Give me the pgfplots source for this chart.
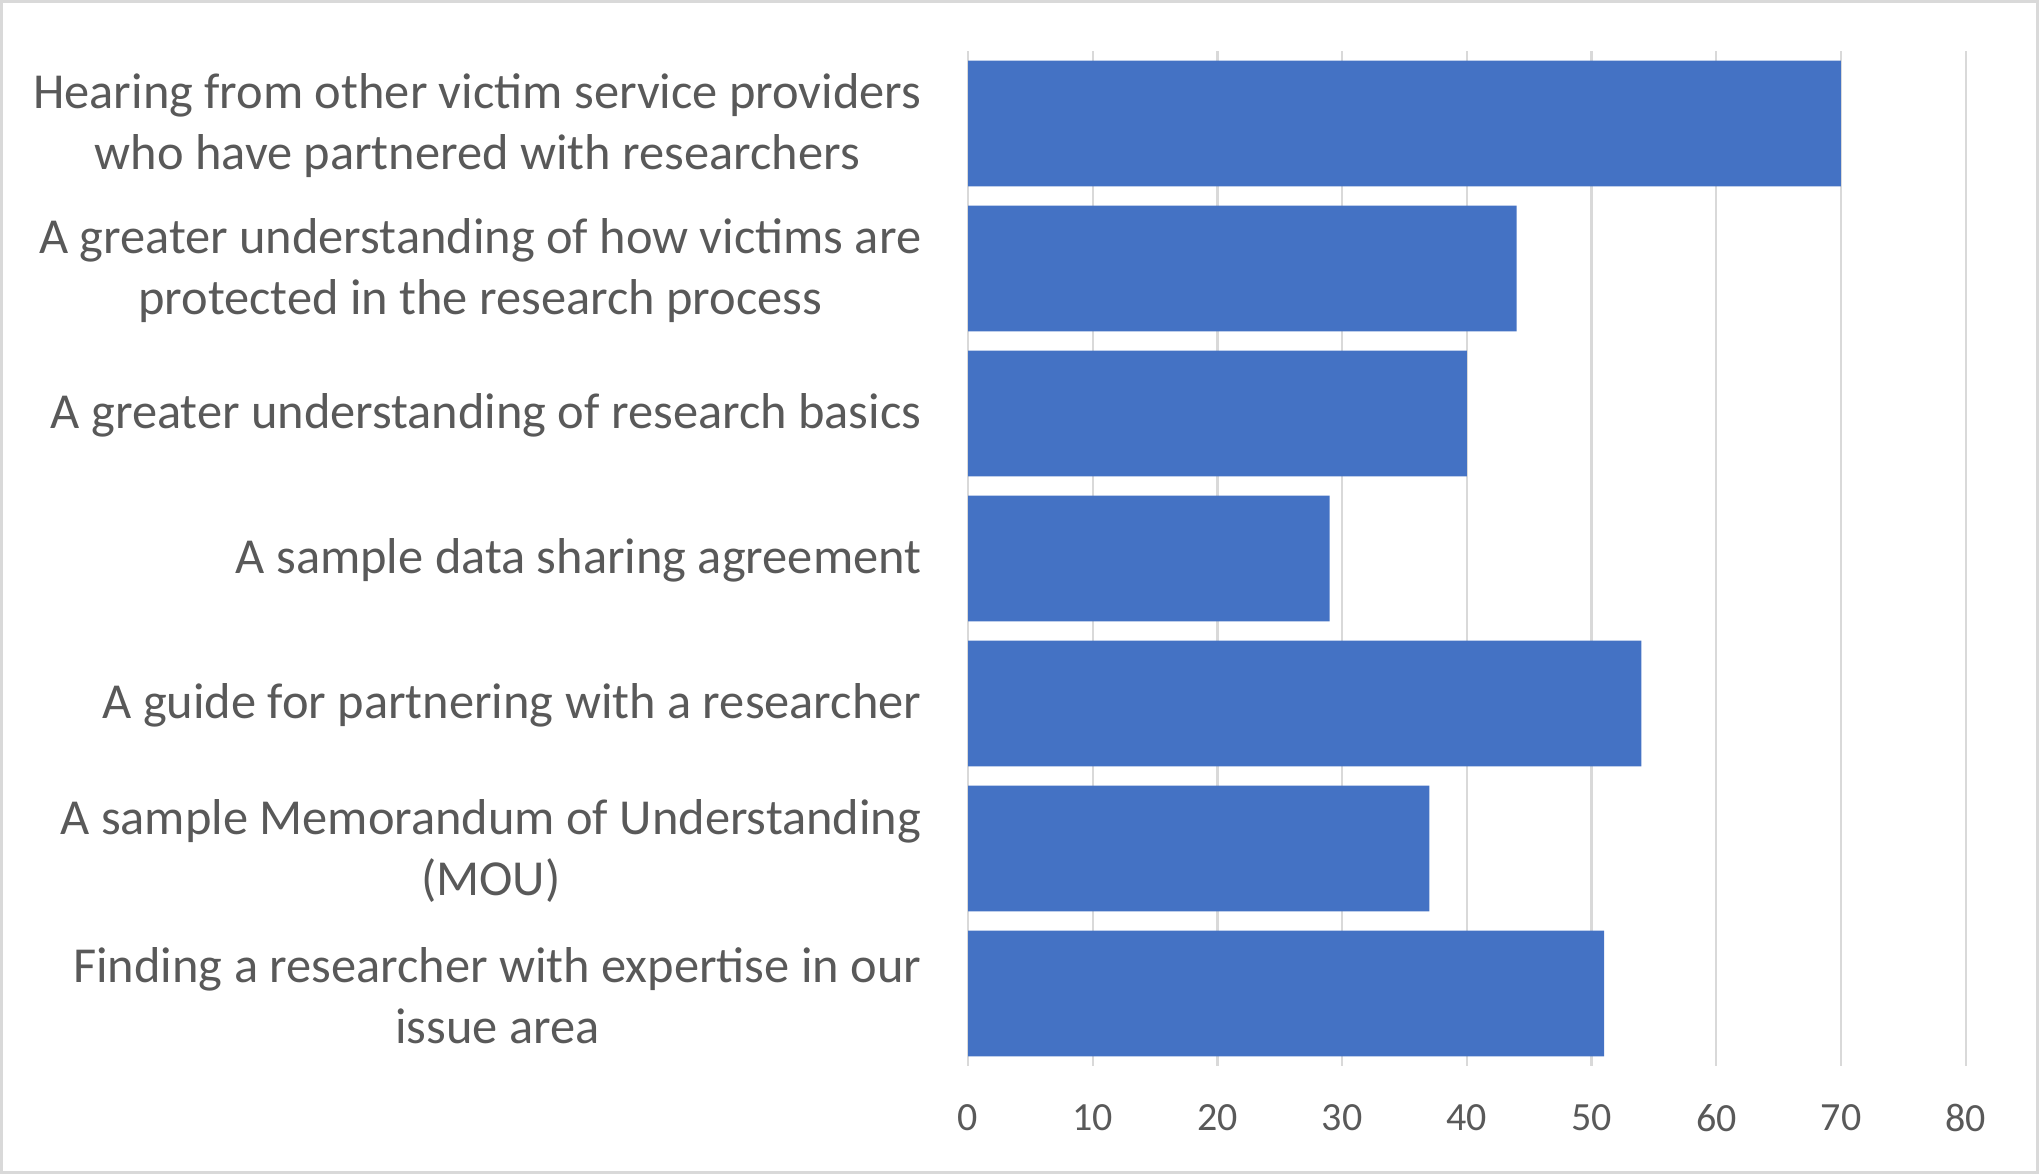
\documentclass[border=0pt]{standalone}
\usepackage{pgfplots}
\pgfplotsset{compat=1.18}
\usepackage{fontspec}
\setmainfont{Carlito}
\definecolor{barblue}{HTML}{4472C4}
\definecolor{gridgray}{HTML}{D9D9D9}
\definecolor{txtgray}{HTML}{595959}
\begin{document}
\begin{tikzpicture}
\path[use as bounding box] (0,0) rectangle (1019.5bp,587bp);
\draw[gridgray, line width=1.5bp] (0.75bp,0.75bp) rectangle (1018.75bp,586.25bp);
\begin{axis}[
 at={(484bp,54bp)}, anchor=south west,
 scale only axis, width=498.85bp, height=507.5bp,
 xbar, bar width=0.867,
 xmin=0, xmax=80, ymin=-0.5, ymax=6.5, y dir=reverse,
 xtick={0,10,...,80}, ytick={0,...,6},
 yticklabels={{Hearing from other victim service providers\\who have partnered with researchers},
   {A greater understanding of how victims are\\protected in the research process},
   {A greater understanding of research basics},
   {A sample data sharing agreement},
   {A guide for partnering with a researcher},
   {A sample Memorandum of Understanding\\(MOU)},
   {Finding a researcher with expertise in our\\issue area}},
 axis line style={draw=none}, major tick length=0pt,
 xmajorgrids, grid style={gridgray, line width=1.1bp},
 tick label style={text=txtgray},
 xticklabel style={font=\fontsize{20bp}{24bp}\selectfont, anchor=center, yshift=-26bp},
 yticklabel style={font=\fontsize{25.2bp}{30.5bp}\selectfont, anchor=east, inner sep=0pt, xshift=-23.2bp, yshift=-1bp, align=center},
 /pgf/number format/assume math mode=true,
]
\addplot[fill=barblue, draw=none] coordinates {(70,0) (44,1) (40,2) (29,3) (54,4) (37,5) (51,6)};
\end{axis}
\end{tikzpicture}
\end{document}
